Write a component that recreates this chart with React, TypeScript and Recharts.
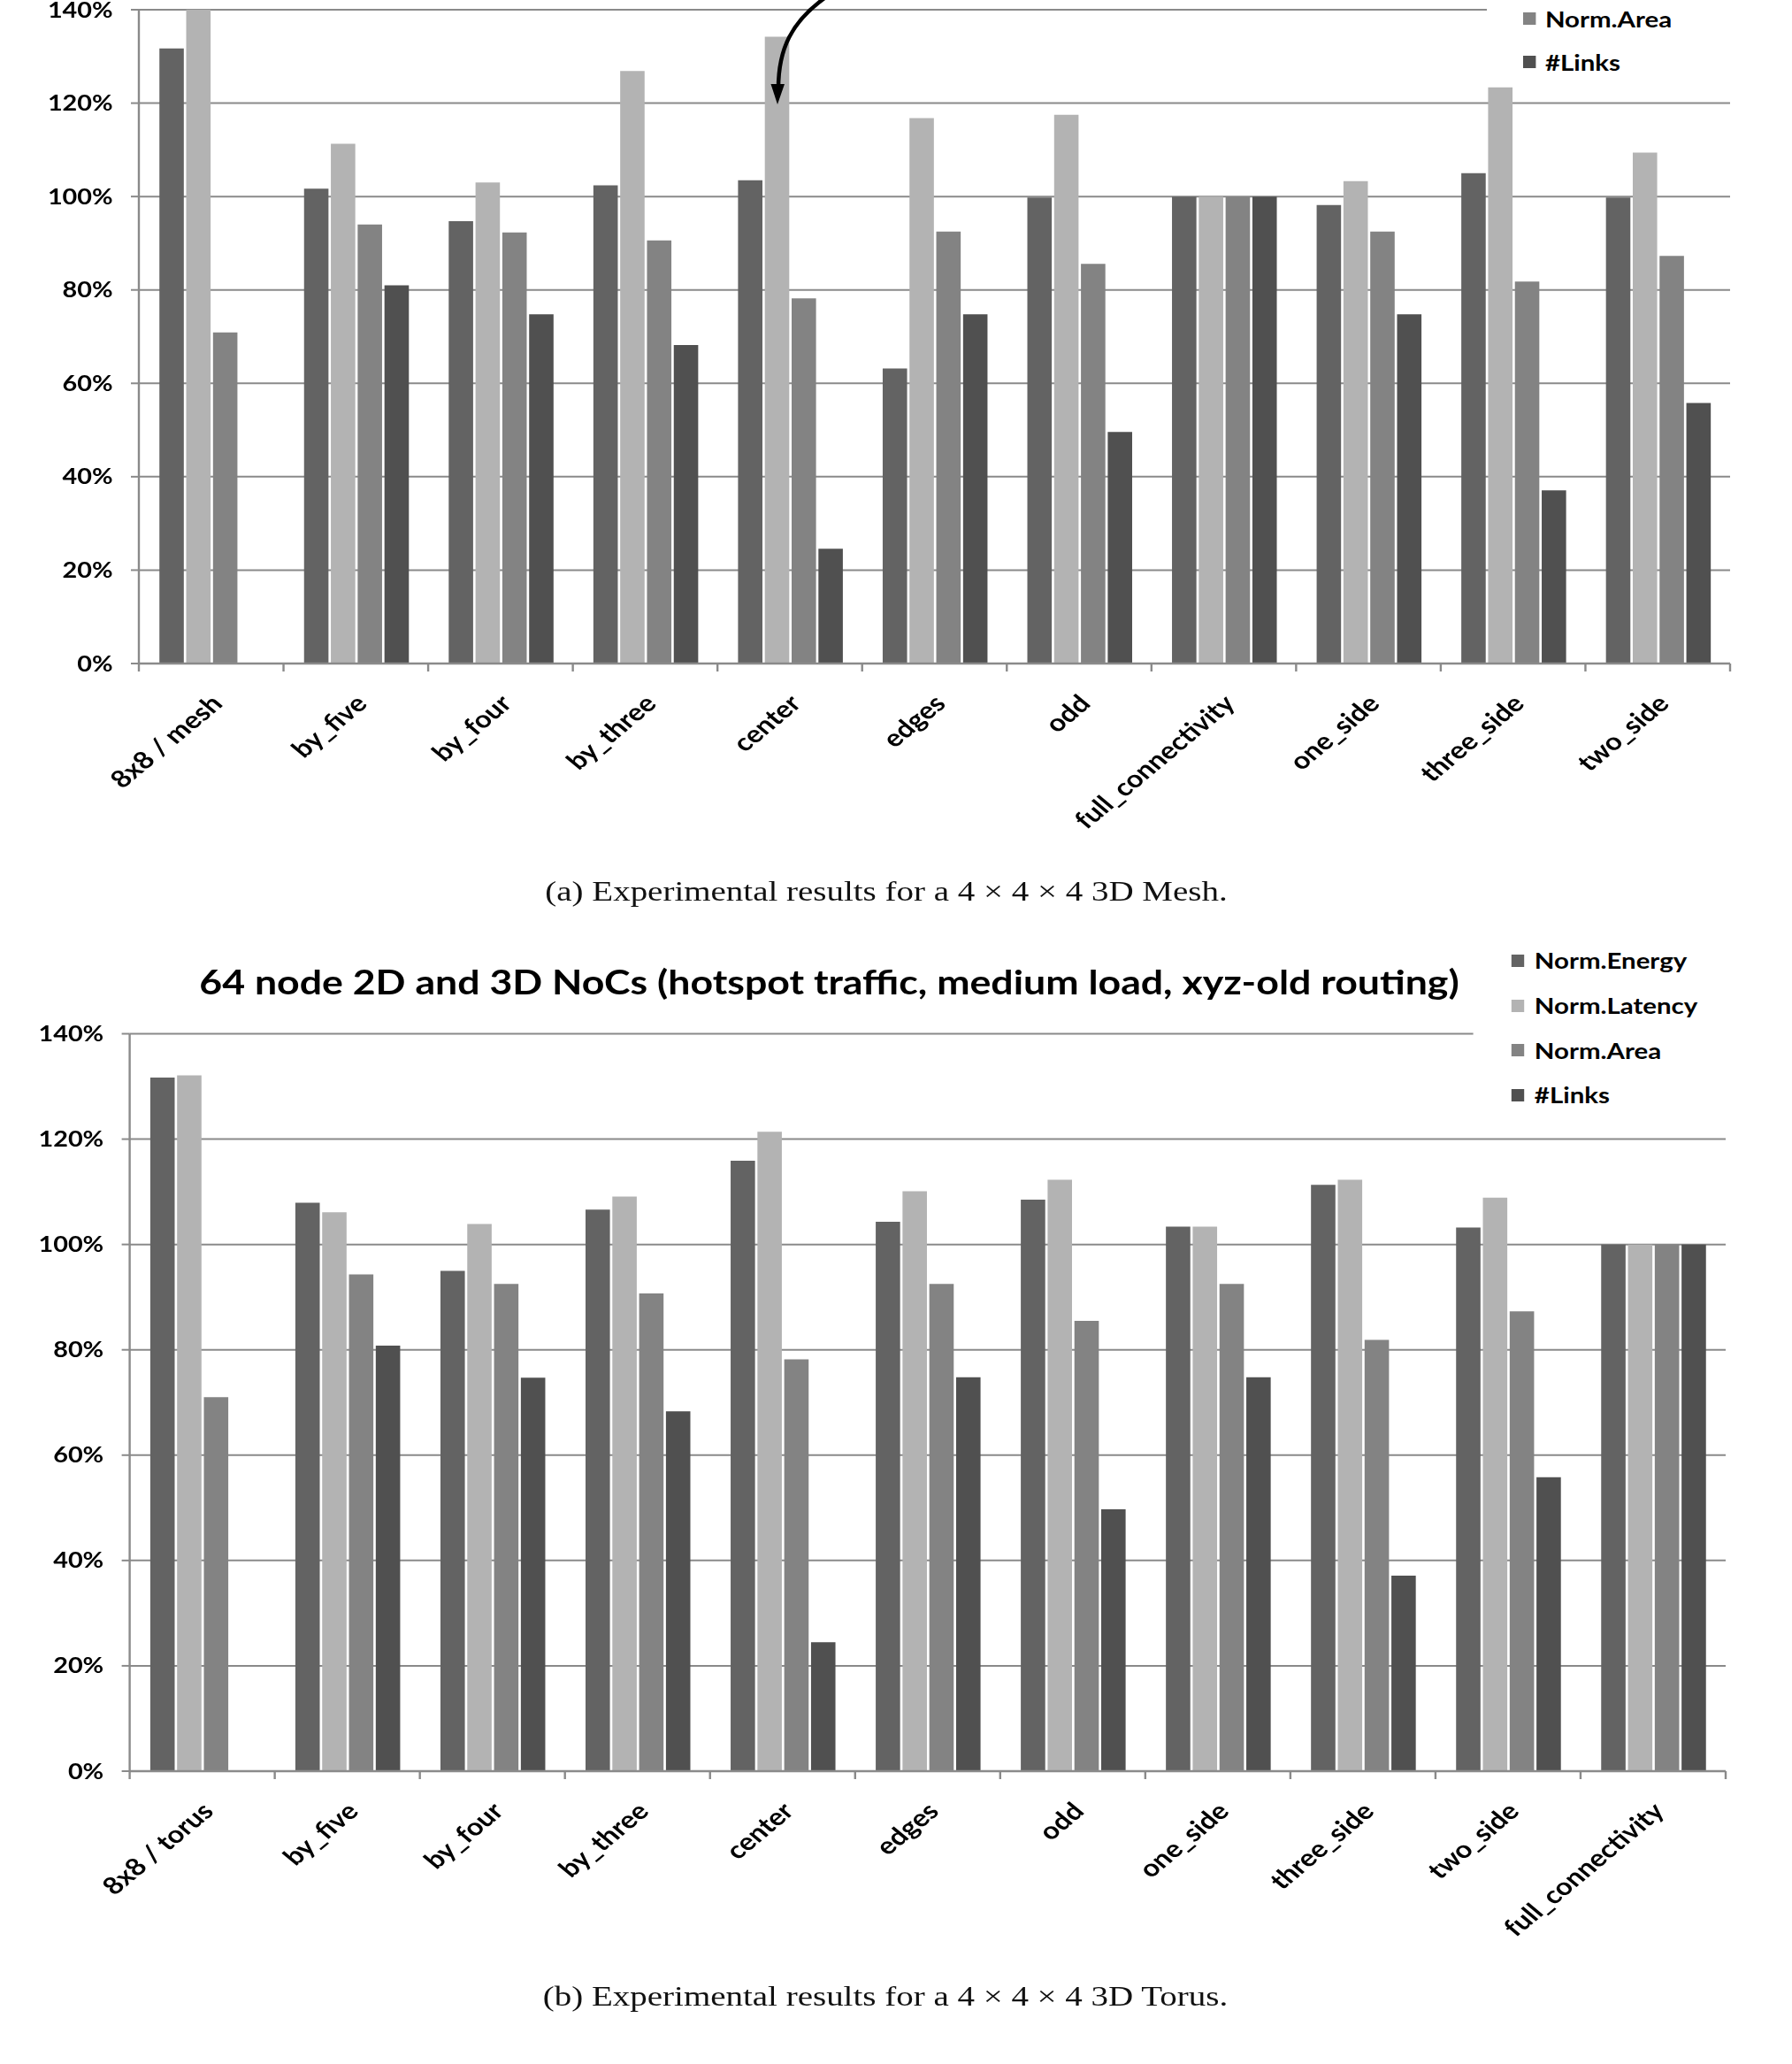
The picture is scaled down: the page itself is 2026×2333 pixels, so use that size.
import React from 'react';
import { BarChart, Bar, XAxis, YAxis, CartesianGrid, Legend } from 'recharts';

// ---------- data ----------
const meshCategories = ['8x8 / mesh', 'by_five', 'by_four', 'by_three', 'center', 'edges', 'odd', 'full_connectivity', 'one_side', 'three_side', 'two_side'];
const meshEnergy = [131.7, 101.7, 94.7, 102.4, 103.5, 63.2, 99.8, 100, 98.2, 105.0, 99.8];
const meshLatency = [140, 111.3, 103.0, 126.9, 134.2, 116.8, 117.5, 100, 103.3, 123.4, 109.4];
const meshArea = [70.9, 94.0, 92.3, 90.6, 78.2, 92.5, 85.6, 100, 92.5, 81.8, 87.3];
const meshLinks = [null, 81.0, 74.8, 68.2, 24.6, 74.8, 49.6, 100, 74.8, 37.1, 55.8];

const torusCategories = ['8x8 / torus', 'by_five', 'by_four', 'by_three', 'center', 'edges', 'odd', 'one_side', 'three_side', 'two_side', 'full_connectivity'];
const torusEnergy = [131.7, 107.9, 95.0, 106.6, 115.9, 104.3, 108.5, 103.4, 111.3, 103.2, 100];
const torusLatency = [132.1, 106.1, 103.9, 109.1, 121.4, 110.1, 112.3, 103.4, 112.3, 108.9, 100];
const torusArea = [71.0, 94.3, 92.5, 90.7, 78.2, 92.5, 85.5, 92.5, 81.9, 87.3, 100];
const torusLinks = [null, 80.8, 74.7, 68.3, 24.5, 74.8, 49.7, 74.8, 37.1, 55.8, 100];

const seriesKeys = ['energy', 'latency', 'area', 'links'];
const seriesNames = ['Norm.Energy', 'Norm.Latency', 'Norm.Area', '#Links'];
const seriesColors = ['#636363', '#b3b3b3', '#838383', '#505050'];
const yTicks = [0, 20, 40, 60, 80, 100, 120, 140];

const torusTitle = '64 node 2D and 3D NoCs (hotspot traffic, medium load, xyz-old routing)';
const captionMesh = '(a) Experimental results for a 4 \u00d7 4 \u00d7 4 3D Mesh.';
const captionTorus = '(b) Experimental results for a 4 \u00d7 4 \u00d7 4 3D Torus.';

// ---------- layout ----------
const K = 1.2; // horizontal stretch of the whole figure
const PAGE_W = 2026;
const PAGE_H = 2333;
const LOCAL_W = PAGE_W / K;
const FONT = 'Lato, "Open Sans", sans-serif';
const GRID = '#8a8a8a';
const X_AXIS_H = 240;

function buildRows(cats: string[], e: any[], l: any[], a: any[], k: any[]) {
  return cats.map((name, i) => ({ name, energy: e[i], latency: l[i], area: a[i], links: k[i] }));
}

const meshRows = buildRows(meshCategories, meshEnergy, meshLatency, meshArea, meshLinks);
const torusRows = buildRows(torusCategories, torusEnergy, torusLatency, torusArea, torusLinks);

interface PanelProps {
  rows: any[];
  top: number;
  plotTop: number;
  plotHeight: number;
  plotLeft: number;
  plotRight: number;
  legendTop: number;
  legendLeft: number;
  legendPad: number;
  legendRow: number;
  legendGap: number;
  legendFrom: number;
  title?: string;
  titleX?: number;
  titleY?: number;
}

function Panel(p: PanelProps) {
  const height = p.plotTop + p.plotHeight + X_AXIS_H;
  const halfBand = (p.plotRight - p.plotLeft) / p.rows.length / 2;
  const count = p.rows.length;

  const renderTick = (props: any) => {
    const { x, y, payload, index } = props;
    const ax = x + 12;
    const ay = y + 47;
    return (
      <g>
        <line x1={x - halfBand} x2={x - halfBand} y1={y} y2={y + 9} stroke={GRID} strokeWidth={2} />
        {index === count - 1 ? (
          <line x1={x + halfBand} x2={x + halfBand} y1={y} y2={y + 9} stroke={GRID} strokeWidth={2} />
        ) : null}
        <text
          x={ax}
          y={ay}
          transform={`rotate(-45, ${ax}, ${ay})`}
          textAnchor="end"
          fill="#000"
          style={{ fontFamily: FONT, fontWeight: 700, fontSize: 27 }}
        >
          {payload.value}
        </text>
      </g>
    );
  };

  const renderLegend = (props: any) => {
    const sorted = [...(props.payload || [])].sort(
      (a: any, b: any) => seriesNames.indexOf(a.value) - seriesNames.indexOf(b.value)
    );
    const items = sorted.slice(p.legendFrom);
    return (
      <div style={{ background: '#fff', paddingLeft: p.legendPad }}>
        {items.map((it: any) => (
          <div
            key={it.value}
            style={{
              height: p.legendRow,
              display: 'flex',
              alignItems: 'center',
              fontFamily: FONT,
              fontWeight: 700,
              fontSize: 24.5,
              color: '#000',
              whiteSpace: 'nowrap',
            }}
          >
            <span
              style={{
                display: 'inline-block',
                width: 14 / K,
                height: 14,
                background: it.color,
                marginRight: p.legendGap,
              }}
            />
            {it.value}
          </div>
        ))}
      </div>
    );
  };

  return (
    <div style={{ position: 'absolute', left: 0, top: p.top, width: LOCAL_W, height }}>
      <BarChart
        width={LOCAL_W}
        height={height}
        data={p.rows}
        margin={{ top: p.plotTop, right: LOCAL_W - p.plotRight, bottom: 0, left: 0 }}
        barCategoryGap="14.2%"
        barGap={2.25}
      >
        <CartesianGrid vertical={false} stroke={GRID} strokeWidth={2} />
        <XAxis
          dataKey="name"
          interval={0}
          height={X_AXIS_H}
          tickSize={0}
          tickMargin={0}
          tickLine={false}
          axisLine={{ stroke: GRID, strokeWidth: 2.5 }}
          tick={renderTick}
        />
        <YAxis
          width={p.plotLeft}
          domain={[0, 140]}
          ticks={yTicks}
          allowDataOverflow
          tickFormatter={(v: number) => `${v}%`}
          tickSize={7.5}
          tickMargin={17}
          axisLine={{ stroke: GRID, strokeWidth: 2 }}
          tickLine={{ stroke: GRID, strokeWidth: 2 }}
          tick={{ fill: '#000', fontSize: 24, fontWeight: 700, fontFamily: FONT }}
        />
        <Legend
          layout="horizontal"
          verticalAlign="middle"
          align="center"
          wrapperStyle={{ top: p.legendTop, left: p.legendLeft, width: LOCAL_W - p.legendLeft }}
          content={renderLegend}
        />
        {seriesKeys.map((key, i) => (
          <Bar key={key} dataKey={key} name={seriesNames[i]} fill={seriesColors[i]} isAnimationActive={false} />
        ))}
      </BarChart>
      {p.title ? (
        <svg
          width={LOCAL_W}
          height={p.plotTop}
          style={{ position: 'absolute', left: 0, top: 0, pointerEvents: 'none' }}
        >
          <text
            x={p.titleX}
            y={p.titleY}
            textAnchor="middle"
            fill="#000"
            style={{ fontFamily: FONT, fontWeight: 700, fontSize: 37.2 }}
          >
            {p.title}
          </text>
        </svg>
      ) : null}
    </div>
  );
}

export default function App() {
  return (
    <div
      style={{
        position: 'absolute',
        left: 0,
        top: 0,
        width: PAGE_W,
        height: PAGE_H,
        overflow: 'hidden',
        background: '#fff',
      }}
    >
      <div
        style={{
          position: 'absolute',
          left: 0,
          top: 0,
          width: LOCAL_W,
          height: PAGE_H,
          transform: `scale(${K}, 1)`,
          transformOrigin: '0 0',
        }}
      >
        <svg width={LOCAL_W} height={PAGE_H} style={{ position: 'absolute', left: 0, top: 0 }}>
          <text
            x={1002 / K}
            y={1018}
            textAnchor="middle"
            fill="#111"
            style={{ fontFamily: '"Liberation Serif", serif', fontSize: 32.5 }}
          >
            {captionMesh}
          </text>
          <text
            x={1001 / K}
            y={2267}
            textAnchor="middle"
            fill="#111"
            style={{ fontFamily: '"Liberation Serif", serif', fontSize: 32.5 }}
          >
            {captionTorus}
          </text>
        </svg>
        <Panel
          rows={meshRows}
          top={-120}
          plotTop={131}
          plotHeight={739}
          plotLeft={157 / K}
          plotRight={1956 / K}
          legendTop={116.5}
          legendLeft={1681.6 / K}
          legendPad={1722 / K - 1681.6 / K}
          legendRow={49}
          legendGap={9.1}
          legendFrom={2}
        />
        <Panel
          rows={torusRows}
          top={1040}
          plotTop={128.5}
          plotHeight={833.5}
          plotLeft={146.6 / K}
          plotRight={1951 / K}
          legendTop={20.67}
          legendLeft={1665.5 / K}
          legendPad={1709 / K - 1665.5 / K}
          legendRow={50.67}
          legendGap={9.9}
          legendFrom={0}
          title={torusTitle}
          titleX={937.5 / K}
          titleY={84}
        />
      </div>
      <svg
        width={PAGE_W}
        height={140}
        style={{ position: 'absolute', left: 0, top: 0, pointerEvents: 'none' }}
      >
        <path d="M 932 -2 C 895 25, 880 55, 880 100" stroke="#000" strokeWidth={4.5} fill="none" />
        <polygon points="879,118 871.5,95 887,95" fill="#000" />
      </svg>
    </div>
  );
}
